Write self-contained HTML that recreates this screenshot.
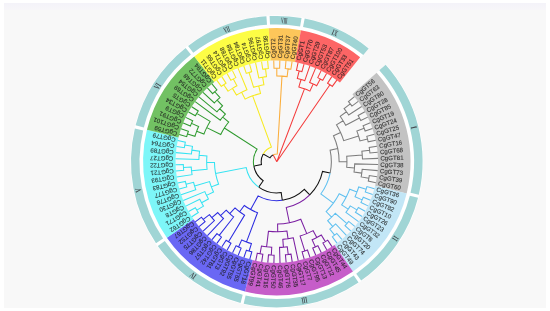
<!DOCTYPE html>
<html lang="en"><head><meta charset="utf-8"><title>Phylogenetic tree of CgGT family</title>
<style>
html,body{margin:0;padding:0;background:#fff;}
body{width:550px;height:311px;overflow:hidden;position:relative;}
#panel{position:absolute;left:4.4px;top:3px;width:541.7px;height:305.2px;background:#f8f8f8;}
#band{position:absolute;left:0;top:0;width:100%;height:7px;background:linear-gradient(#f4f3f9,#f7f6f9);}
svg{position:absolute;left:0;top:0;}
.lab{font-family:"Liberation Sans",Arial,sans-serif;font-size:6.15px;fill:#1c1c1c;stroke:#1c1c1c;stroke-width:0.12px;opacity:0.85;}
.num{font-family:"Liberation Serif","Noto Serif CJK SC",serif;font-size:8.6px;font-weight:bold;fill:#454a50;text-anchor:middle;}
.tree path{fill:none;stroke-width:1.05;stroke-linejoin:miter;}
</style></head><body>
<div id="panel"><div id="band"></div></div>
<svg width="550" height="311" viewBox="0 0 550 311">
<g class="sectors">
<path d="M376.25 73.09L386.11 64.31A146.4 146.4 0 1 1 368.93 47.93L360.63 58.18A133.2 133.2 0 1 0 376.25 73.09Z" fill="#ffffff"/>
<path d="M352.43 94.31L376.63 72.76A133.7 133.7 0 0 1 406.69 193.4L375.21 185.72A101.3 101.3 0 0 0 352.43 94.31Z" fill="#c3c3c3"/>
<path d="M379.31 70.36L385.66 64.71A145.8 145.8 0 0 1 418.81 194.72L410.53 192.79A137.3 137.3 0 0 0 379.31 70.36Z" fill="#a0d5d5"/>
<path d="M375.21 185.72L406.69 193.4A133.7 133.7 0 0 1 352.96 271.59L334.51 244.96A101.3 101.3 0 0 0 375.21 185.72Z" fill="#c2e6f6"/>
<path d="M409.82 195.7L418.06 197.81A145.8 145.8 0 0 1 361.16 280.62L356.24 273.69A137.3 137.3 0 0 0 409.82 195.7Z" fill="#a0d5d5"/>
<path d="M334.51 244.96L352.96 271.59A133.7 133.7 0 0 1 245 291.56L252.7 260.09A101.3 101.3 0 0 0 334.51 244.96Z" fill="#c65dc9"/>
<path d="M353.78 275.39L358.54 282.43A145.8 145.8 0 0 1 243.66 303.68L245.6 295.41A137.3 137.3 0 0 0 353.78 275.39Z" fill="#a0d5d5"/>
<path d="M252.7 260.09L245 291.56A133.7 133.7 0 0 1 166.85 237.77L193.49 219.34A101.3 101.3 0 0 0 252.7 260.09Z" fill="#6a67f4"/>
<path d="M242.69 294.69L240.57 302.93A145.8 145.8 0 0 1 157.81 245.96L164.75 241.05A137.3 137.3 0 0 0 242.69 294.69Z" fill="#a0d5d5"/>
<path d="M193.49 219.34L166.85 237.77A133.7 133.7 0 0 1 146.96 129.79L178.43 137.52A101.3 101.3 0 0 0 193.49 219.34Z" fill="#7df6f8"/>
<path d="M163.04 238.58L156 243.34A145.8 145.8 0 0 1 134.84 128.45L143.12 130.38A137.3 137.3 0 0 0 163.04 238.58Z" fill="#a0d5d5"/>
<path d="M178.43 137.52L146.96 129.79A133.7 133.7 0 0 1 194.31 56.48L214.3 81.98A101.3 101.3 0 0 0 178.43 137.52Z" fill="#72c163"/>
<path d="M143.83 127.48L135.6 125.36A145.8 145.8 0 0 1 185.6 47.94L190.92 54.58A137.3 137.3 0 0 0 143.83 127.48Z" fill="#a0d5d5"/>
<path d="M214.3 81.98L194.31 56.48A133.7 133.7 0 0 1 268.73 28.24L270.69 60.58A101.3 101.3 0 0 0 214.3 81.98Z" fill="#fdfd45"/>
<path d="M193.28 52.73L188.11 45.98A145.8 145.8 0 0 1 266.41 16.27L267.02 24.75A137.3 137.3 0 0 0 193.28 52.73Z" fill="#a0d5d5"/>
<path d="M270.69 60.58L268.73 28.24A133.7 133.7 0 0 1 300.92 30.19L295.07 62.06A101.3 101.3 0 0 0 270.69 60.58Z" fill="#fdc65a"/>
<path d="M270.01 24.57L269.59 16.08A145.8 145.8 0 0 1 301.54 18.01L300.09 26.39A137.3 137.3 0 0 0 270.01 24.57Z" fill="#a0d5d5"/>
<path d="M295.07 62.06L300.92 30.19A133.7 133.7 0 0 1 360.12 57.14L339.93 82.48A101.3 101.3 0 0 0 295.07 62.06Z" fill="#fd6565"/>
<path d="M303.04 26.93L304.67 18.59A145.8 145.8 0 0 1 368.65 48.47L363.3 55.07A137.3 137.3 0 0 0 303.04 26.93Z" fill="#a0d5d5"/>
</g>
<g class="tree">
<path stroke="#f43c3c" d="M276.8 161.7L273.08 154.85M276.8 161.7L304.45 88.85M304.45 88.85A77.92 77.92 0 0 0 298.87 86.97L301.08 79.49M301.08 79.49A85.72 85.72 0 0 0 297.33 78.48L299.19 70.91M299.19 70.91A93.51 93.51 0 0 0 296.44 70.28L298.08 62.66M299.19 70.91A93.51 93.51 0 0 1 301.93 71.63L304.02 64.13M301.08 79.49A85.72 85.72 0 0 1 304.78 80.68L309.87 65.95M304.45 88.85A77.92 77.92 0 0 1 309.87 91.14L313.18 84.09M313.18 84.09A85.72 85.72 0 0 0 309.62 82.52L315.59 68.12M313.18 84.09A85.72 85.72 0 0 1 316.66 85.82L320.28 78.92M320.28 78.92A93.51 93.51 0 0 0 317.76 77.64L321.17 70.64M320.28 78.92A93.51 93.51 0 0 1 322.76 80.27L326.59 73.48M276.8 161.7L329.95 84.76M329.95 84.76A93.51 93.51 0 0 0 327.6 83.19L331.83 76.65M329.95 84.76A93.51 93.51 0 0 1 332.25 86.41L336.87 80.13"/>
<path stroke="#111" stroke-width="1.25" d="M273.08 154.85A7.79 7.79 0 0 0 270.02 157.86L263.24 154.03M263.24 154.03A15.58 15.58 0 0 0 261.49 164.64L253.84 166.11M253.84 166.11A23.38 23.38 0 0 0 263.22 180.73L258.69 187.07M258.69 187.07A31.17 31.17 0 0 0 281.19 192.56L282.29 200.27M282.29 200.27A38.96 38.96 0 0 0 304.28 189.32L309.77 194.85M309.77 194.85A46.75 46.75 0 0 0 322.54 171.41L330.16 173.02"/>
<path stroke="#7d7d7d" d="M330.16 173.02A54.55 54.55 0 0 0 330.1 150.12L337.72 148.46M337.72 148.46A62.34 62.34 0 0 0 333.48 135.75L340.57 132.51M340.57 132.51A70.13 70.13 0 0 0 336.44 124.8L343.07 120.7M343.07 120.7A77.92 77.92 0 0 0 340.13 116.3L346.46 111.76M346.46 111.76A85.72 85.72 0 0 0 344.13 108.65L350.25 103.83M350.25 103.83A93.51 93.51 0 0 0 348.46 101.63L354.44 96.63M350.25 103.83A93.51 93.51 0 0 1 351.96 106.07L358.23 101.44M346.46 111.76A85.72 85.72 0 0 1 348.65 114.96L361.72 106.47M343.07 120.7A77.92 77.92 0 0 1 345.7 125.3L359.48 118.02M359.48 118.02A93.51 93.51 0 0 0 358.12 115.54L364.9 111.7M359.48 118.02A93.51 93.51 0 0 1 360.76 120.54L367.76 117.11M340.57 132.51A70.13 70.13 0 0 1 343.7 140.66L358.57 135.99M358.57 135.99A85.72 85.72 0 0 0 356.87 131.09L364.14 128.31M364.14 128.31A93.51 93.51 0 0 0 363.09 125.69L370.29 122.69M364.14 128.31A93.51 93.51 0 0 1 365.11 130.97L372.47 128.41M358.57 135.99A85.72 85.72 0 0 1 359.97 140.97L367.53 139.09M367.53 139.09A93.51 93.51 0 0 0 366.81 136.36L374.31 134.25M367.53 139.09A93.51 93.51 0 0 1 368.17 141.84L375.79 140.19M337.72 148.46A62.34 62.34 0 0 1 339.14 161.78L346.93 161.79M346.93 161.79A70.13 70.13 0 0 0 346.72 156.24L362.25 155.02M362.25 155.02A85.72 85.72 0 0 0 361.86 151.16L369.6 150.2M369.6 150.2A93.51 93.51 0 0 0 369.21 147.4L376.91 146.21M369.6 150.2A93.51 93.51 0 0 1 369.9 153.01L377.66 152.28M362.25 155.02A85.72 85.72 0 0 1 362.47 158.9L378.05 158.39M346.93 161.79A70.13 70.13 0 0 1 346.7 167.35L354.47 167.98M354.47 167.98A77.92 77.92 0 0 0 354.69 163.86L378.06 164.51M354.47 167.98A77.92 77.92 0 0 1 354.03 172.08L361.75 173.11M361.75 173.11A85.72 85.72 0 0 0 362.18 169.25L377.71 170.63M361.75 173.11A85.72 85.72 0 0 1 361.15 176.95L368.82 178.34M368.82 178.34A93.51 93.51 0 0 0 369.28 175.55L376.98 176.71M368.82 178.34A93.51 93.51 0 0 1 368.27 181.11L375.89 182.73"/>
<path stroke="#5fc0f0" d="M330.16 173.02A54.55 54.55 0 0 1 320.8 193.94L333.37 203.15M333.37 203.15A70.13 70.13 0 0 0 339.21 193.69L346.15 197.24M346.15 197.24A77.92 77.92 0 0 0 349.72 189.17L357.01 191.92M357.01 191.92A85.72 85.72 0 0 0 358.69 187.01L366.14 189.32M366.14 189.32A93.51 93.51 0 0 0 366.93 186.6L374.44 188.68M366.14 189.32A93.51 93.51 0 0 1 365.26 192L372.63 194.53M357.01 191.92A85.72 85.72 0 0 1 355.04 196.71L362.15 199.89M362.15 199.89A93.51 93.51 0 0 0 363.27 197.29L370.48 200.26M362.15 199.89A93.51 93.51 0 0 1 360.96 202.45L367.97 205.85M346.15 197.24A77.92 77.92 0 0 1 341.68 204.85L348.17 209.17M348.17 209.17A85.72 85.72 0 0 0 350.25 205.89L356.93 209.9M356.93 209.9A93.51 93.51 0 0 0 358.35 207.46L365.14 211.27M356.93 209.9A93.51 93.51 0 0 1 355.43 212.3L361.99 216.52M348.17 209.17A85.72 85.72 0 0 1 345.95 212.36L358.52 221.57M333.37 203.15A70.13 70.13 0 0 1 326.11 211.56L331.59 217.1M331.59 217.1A77.92 77.92 0 0 0 335.23 213.25L346.92 223.56M346.92 223.56A93.51 93.51 0 0 0 348.76 221.42L354.75 226.39M346.92 223.56A93.51 93.51 0 0 1 345.02 225.65L350.7 230.98M331.59 217.1A77.92 77.92 0 0 1 327.7 220.7L332.79 226.6M332.79 226.6A85.72 85.72 0 0 0 335.68 223.99L346.38 235.32M332.79 226.6A85.72 85.72 0 0 1 329.79 229.07L334.61 235.19M334.61 235.19A93.51 93.51 0 0 0 336.81 233.41L341.81 239.39M334.61 235.19A93.51 93.51 0 0 1 332.36 236.91L337 243.18"/>
<path stroke="#7b1fa2" d="M309.77 194.85A46.75 46.75 0 0 1 286.26 207.49L289.41 222.75M289.41 222.75A62.34 62.34 0 0 0 300.76 219.25L306.75 233.64M306.75 233.64A77.92 77.92 0 0 0 313.14 230.63L316.78 237.52M316.78 237.52A85.72 85.72 0 0 0 321.28 234.97L325.33 241.63M325.33 241.63A93.51 93.51 0 0 0 327.72 240.13L331.96 246.66M325.33 241.63A93.51 93.51 0 0 1 322.89 243.06L326.73 249.84M316.78 237.52A85.72 85.72 0 0 1 312.12 239.8L315.33 246.9M315.33 246.9A93.51 93.51 0 0 0 317.89 245.7L321.31 252.7M315.33 246.9A93.51 93.51 0 0 1 312.74 248.02L315.74 255.22M306.75 233.64A77.92 77.92 0 0 1 300.11 236.05L304.78 250.92M304.78 250.92A93.51 93.51 0 0 0 307.46 250.04L310.01 257.4M304.78 250.92A93.51 93.51 0 0 1 302.07 251.73L304.17 259.23M289.41 222.75A62.34 62.34 0 0 1 277.61 224.03L277.71 231.82M277.71 231.82A70.13 70.13 0 0 0 286.95 231.09L288.07 238.8M288.07 238.8A77.92 77.92 0 0 0 293.29 237.86L298.23 260.71M288.07 238.8A77.92 77.92 0 0 1 282.81 239.39L283.41 247.16M283.41 247.16A85.72 85.72 0 0 0 287.27 246.77L288.23 254.51M288.23 254.51A93.51 93.51 0 0 0 291.03 254.12L292.21 261.82M288.23 254.51A93.51 93.51 0 0 1 285.42 254.81L286.13 262.57M283.41 247.16A85.72 85.72 0 0 1 279.53 247.37L280.02 262.95M277.71 231.82A70.13 70.13 0 0 1 268.45 231.33L266.6 246.81M266.6 246.81A85.72 85.72 0 0 0 271.76 247.27L271.3 255.05M271.3 255.05A93.51 93.51 0 0 0 274.12 255.17L273.9 262.96M271.3 255.05A93.51 93.51 0 0 1 268.48 254.84L267.79 262.6M266.6 246.81A85.72 85.72 0 0 1 261.48 246.03L260.08 253.7M260.08 253.7A93.51 93.51 0 0 0 262.87 254.16L261.71 261.87M260.08 253.7A93.51 93.51 0 0 1 257.31 253.15L255.69 260.78"/>
<path stroke="#2a2ae0" d="M282.29 200.27A38.96 38.96 0 0 1 258.12 195.89L250.65 209.57M250.65 209.57A54.55 54.55 0 0 0 257.53 212.73L246.52 241.89M246.52 241.89A85.72 85.72 0 0 0 251.42 243.57L249.11 251.01M249.11 251.01A93.51 93.51 0 0 0 251.82 251.81L249.74 259.32M249.11 251.01A93.51 93.51 0 0 1 246.42 250.14L243.89 257.51M246.52 241.89A85.72 85.72 0 0 1 241.73 239.91L238.54 247.02M238.54 247.02A93.51 93.51 0 0 0 241.14 248.14L238.17 255.34M238.54 247.02A93.51 93.51 0 0 1 235.98 245.83L232.58 252.84M250.65 209.57A54.55 54.55 0 0 1 244.28 205.49L239.63 211.75M239.63 211.75A62.34 62.34 0 0 0 244.62 215.09L228.53 241.79M228.53 241.79A93.51 93.51 0 0 0 230.97 243.21L227.15 250M228.53 241.79A93.51 93.51 0 0 1 226.13 240.29L221.91 246.84M239.63 211.75A62.34 62.34 0 0 1 234.99 207.94L229.77 213.72M229.77 213.72A70.13 70.13 0 0 0 233.62 216.96L219.22 235.38M219.22 235.38A93.51 93.51 0 0 0 221.48 237.09L216.87 243.37M219.22 235.38A93.51 93.51 0 0 1 217.02 233.61L212.04 239.6M229.77 213.72A70.13 70.13 0 0 1 226.16 210.21L220.53 215.6M220.53 215.6A77.92 77.92 0 0 0 223.46 218.5L207.46 235.54M220.53 215.6A77.92 77.92 0 0 1 217.76 212.55L211.85 217.64M211.85 217.64A85.72 85.72 0 0 0 214.46 220.53L203.12 231.22M211.85 217.64A85.72 85.72 0 0 1 209.39 214.64L203.26 219.45M203.26 219.45A93.51 93.51 0 0 0 205.04 221.65L199.06 226.64M203.26 219.45A93.51 93.51 0 0 1 201.55 217.2L195.27 221.83"/>
<path stroke="#35e3f2" d="M258.69 187.07A31.17 31.17 0 0 1 246.19 167.58L215.58 173.45M215.58 173.45A62.34 62.34 0 0 0 218.62 184.08L211.35 186.88M211.35 186.88A70.13 70.13 0 0 0 213.55 191.99L206.52 195.35M206.52 195.35A77.92 77.92 0 0 0 208.4 199.02L201.56 202.75M201.56 202.75A85.72 85.72 0 0 0 203.49 206.12L196.83 210.16M196.83 210.16A93.51 93.51 0 0 0 198.33 212.55L191.79 216.79M196.83 210.16A93.51 93.51 0 0 1 195.4 207.72L188.62 211.56M201.56 202.75A85.72 85.72 0 0 1 199.77 199.3L185.77 206.14M206.52 195.35A77.92 77.92 0 0 1 204.84 191.59L183.25 200.56M211.35 186.88A70.13 70.13 0 0 1 209.56 181.61L194.61 186.04M194.61 186.04A85.72 85.72 0 0 0 195.8 189.74L181.07 194.84M194.61 186.04A85.72 85.72 0 0 1 193.59 182.29L186.03 184.16M186.03 184.16A93.51 93.51 0 0 0 186.75 186.89L179.25 188.99M186.03 184.16A93.51 93.51 0 0 1 185.39 181.41L177.78 183.05M215.58 173.45A62.34 62.34 0 0 1 214.47 162.45L206.67 162.55M206.67 162.55A70.13 70.13 0 0 0 207.07 169.16L191.57 170.82M191.57 170.82A85.72 85.72 0 0 0 192.07 174.67L176.67 177.03M191.57 170.82A85.72 85.72 0 0 1 191.25 166.94L183.47 167.42M183.47 167.42A93.51 93.51 0 0 0 183.68 170.24L175.92 170.95M183.47 167.42A93.51 93.51 0 0 1 183.34 164.6L175.55 164.84M206.67 162.55A70.13 70.13 0 0 1 206.91 155.93L199.14 155.29M199.14 155.29A77.92 77.92 0 0 0 198.91 159.41L175.54 158.72M199.14 155.29A77.92 77.92 0 0 1 199.59 151.19L191.87 150.14M191.87 150.14A85.72 85.72 0 0 0 191.43 154.01L175.91 152.61M191.87 150.14A85.72 85.72 0 0 1 192.48 146.31L184.81 144.91M184.81 144.91A93.51 93.51 0 0 0 184.35 147.69L176.64 146.53M184.81 144.91A93.51 93.51 0 0 1 185.36 142.14L177.74 140.51"/>
<path stroke="#2e9a2e" d="M253.84 166.11A23.38 23.38 0 0 1 257.14 149.05L224.37 127.98M224.37 127.98A62.34 62.34 0 0 0 220.74 134.44L206.72 127.63M206.72 127.63A77.92 77.92 0 0 0 203.92 134.11L196.64 131.35M196.64 131.35A85.72 85.72 0 0 0 194.95 136.25L187.51 133.94M187.51 133.94A93.51 93.51 0 0 0 186.71 136.65L179.2 134.56M187.51 133.94A93.51 93.51 0 0 1 188.39 131.25L181.02 128.71M196.64 131.35A85.72 85.72 0 0 1 198.62 126.56L191.51 123.37M191.51 123.37A93.51 93.51 0 0 0 190.39 125.97L183.19 122.99M191.51 123.37A93.51 93.51 0 0 1 192.71 120.81L185.7 117.4M206.72 127.63A77.92 77.92 0 0 1 210.1 121.42L196.75 113.36M196.75 113.36A93.51 93.51 0 0 0 195.33 115.81L188.54 111.98M196.75 113.36A93.51 93.51 0 0 1 198.25 110.97L191.71 106.74M224.37 127.98A62.34 62.34 0 0 1 228.74 121.99L222.74 117.03M222.74 117.03A70.13 70.13 0 0 0 220.29 120.16L195.18 101.7M222.74 117.03A70.13 70.13 0 0 1 225.36 114.04L219.64 108.74M219.64 108.74A77.92 77.92 0 0 0 216.92 111.84L198.95 96.88M219.64 108.74A77.92 77.92 0 0 1 222.52 105.79L217.09 100.2M217.09 100.2A85.72 85.72 0 0 0 214.36 102.97L203.01 92.29M217.09 100.2A85.72 85.72 0 0 1 219.94 97.56L214.77 91.73M214.77 91.73A93.51 93.51 0 0 0 212.68 93.64L207.34 87.96M214.77 91.73A93.51 93.51 0 0 1 216.91 89.89L211.92 83.9"/>
<path stroke="#f7ea20" d="M263.24 154.03A15.58 15.58 0 0 1 271.44 147.07L252.67 95.85M252.67 95.85A70.13 70.13 0 0 0 245.14 99.12L241.62 92.17M241.62 92.17A77.92 77.92 0 0 0 236.47 95.02L232.44 88.36M232.44 88.36A85.72 85.72 0 0 0 228.09 91.17L223.66 84.76M223.66 84.76A93.51 93.51 0 0 0 221.36 86.4L216.74 80.12M223.66 84.76A93.51 93.51 0 0 1 226.01 83.19L221.78 76.65M232.44 88.36A85.72 85.72 0 0 1 236.95 85.81L233.33 78.91M233.33 78.91A93.51 93.51 0 0 0 230.85 80.26L227.02 73.48M233.33 78.91A93.51 93.51 0 0 1 235.85 77.64L232.44 70.63M241.62 92.17A77.92 77.92 0 0 1 246.97 89.71L238.02 68.12M252.67 95.85A70.13 70.13 0 0 1 260.53 93.48L258.72 85.9M258.72 85.9A77.92 77.92 0 0 0 253.61 87.31L248.97 72.43M248.97 72.43A93.51 93.51 0 0 0 246.29 73.31L243.74 65.95M248.97 72.43A93.51 93.51 0 0 1 251.68 71.63L249.59 64.12M258.72 85.9A77.92 77.92 0 0 1 263.91 84.85L262.62 77.17M262.62 77.17A85.72 85.72 0 0 0 258.8 77.89L255.53 62.66M262.62 77.17A85.72 85.72 0 0 1 266.47 76.61L265.53 68.87M265.53 68.87A93.51 93.51 0 0 0 262.73 69.26L261.56 61.55M265.53 68.87A93.51 93.51 0 0 1 268.34 68.58L267.63 60.82"/>
<path stroke="#fbae3c" d="M273.08 154.85A7.79 7.79 0 0 1 277.27 153.92L281.98 76.14M281.98 76.14A85.72 85.72 0 0 0 276.8 75.98L276.8 68.19M276.8 68.19A93.51 93.51 0 0 0 273.98 68.23L273.74 60.45M276.8 68.19A93.51 93.51 0 0 1 279.63 68.24L279.87 60.45M281.98 76.14A85.72 85.72 0 0 1 287.14 76.61L288.08 68.88M288.08 68.88A93.51 93.51 0 0 0 285.27 68.58L285.98 60.82M288.08 68.88A93.51 93.51 0 0 1 290.88 69.26L292.06 61.56"/>
</g>
<g class="num">
<text transform="translate(413.91 127.53) rotate(76.01) scale(0.84 1)" y="2.84">I</text>
<text transform="translate(395.45 238.44) rotate(122.89) scale(0.66 1)" y="2.84">II</text>
<text transform="translate(304.44 300.27) rotate(168.72) scale(0.58 1)" y="2.84">III</text>
<text transform="translate(193.07 275.52) rotate(216.34) scale(0.6 1)" y="2.84">IV</text>
<text transform="translate(138.4 190.2) rotate(258.37) scale(0.68 1)" y="2.84">V</text>
<text transform="translate(157.44 86.08) rotate(302.36) scale(0.6 1)" y="2.84">VI</text>
<text transform="translate(226.91 29.5) rotate(339.32) scale(0.47 1)" y="2.84">VII</text>
<text transform="translate(284.36 20.6) rotate(363.07) scale(0.39 1)" y="2.84">VIII</text>
<text transform="translate(334.83 32.86) rotate(384.25) scale(0.6 1)" y="2.84">IX</text>
</g>
<g class="lab">
<text transform="translate(276.8 161.7) rotate(-39.97)" x="103.6" y="2.1">CgGT56</text>
<text transform="translate(276.8 161.7) rotate(-36.5)" x="103.6" y="2.1">CgGT63</text>
<text transform="translate(276.8 161.7) rotate(-33.04)" x="103.6" y="2.1">CgGT80</text>
<text transform="translate(276.8 161.7) rotate(-29.58)" x="103.6" y="2.1">CgGT28</text>
<text transform="translate(276.8 161.7) rotate(-26.11)" x="103.6" y="2.1">CgGT85</text>
<text transform="translate(276.8 161.7) rotate(-22.65)" x="103.6" y="2.1">CgGT19</text>
<text transform="translate(276.8 161.7) rotate(-19.19)" x="103.6" y="2.1">CgGT24</text>
<text transform="translate(276.8 161.7) rotate(-15.72)" x="103.6" y="2.1">CgGT25</text>
<text transform="translate(276.8 161.7) rotate(-12.26)" x="103.6" y="2.1">CgGT47</text>
<text transform="translate(276.8 161.7) rotate(-8.8)" x="103.6" y="2.1">CgGT16</text>
<text transform="translate(276.8 161.7) rotate(-5.33)" x="103.6" y="2.1">CgGT68</text>
<text transform="translate(276.8 161.7) rotate(-1.87)" x="103.6" y="2.1">CgGT81</text>
<text transform="translate(276.8 161.7) rotate(1.59)" x="103.6" y="2.1">CgGT38</text>
<text transform="translate(276.8 161.7) rotate(5.06)" x="103.6" y="2.1">CgGT73</text>
<text transform="translate(276.8 161.7) rotate(8.52)" x="103.6" y="2.1">CgGT39</text>
<text transform="translate(276.8 161.7) rotate(11.98)" x="103.6" y="2.1">CgGT60</text>
<text transform="translate(276.8 161.7) rotate(15.45)" x="103.6" y="2.1">CgGT36</text>
<text transform="translate(276.8 161.7) rotate(18.91)" x="103.6" y="2.1">CgGT90</text>
<text transform="translate(276.8 161.7) rotate(22.37)" x="103.6" y="2.1">CgGT82</text>
<text transform="translate(276.8 161.7) rotate(25.84)" x="103.6" y="2.1">CgGT10</text>
<text transform="translate(276.8 161.7) rotate(29.3)" x="103.6" y="2.1">CgGT26</text>
<text transform="translate(276.8 161.7) rotate(32.76)" x="103.6" y="2.1">CgGT23</text>
<text transform="translate(276.8 161.7) rotate(36.23)" x="103.6" y="2.1">CgGT32</text>
<text transform="translate(276.8 161.7) rotate(39.69)" x="103.6" y="2.1">CgGT6</text>
<text transform="translate(276.8 161.7) rotate(43.15)" x="103.6" y="2.1">CgGT20</text>
<text transform="translate(276.8 161.7) rotate(46.62)" x="103.6" y="2.1">CgGT74</text>
<text transform="translate(276.8 161.7) rotate(50.08)" x="103.6" y="2.1">CgGT43</text>
<text transform="translate(276.8 161.7) rotate(53.54)" x="103.6" y="2.1">CgGT49</text>
<text transform="translate(276.8 161.7) rotate(57.01)" x="103.6" y="2.1">CgGT44</text>
<text transform="translate(276.8 161.7) rotate(60.47)" x="103.6" y="2.1">CgGT45</text>
<text transform="translate(276.8 161.7) rotate(63.93)" x="103.6" y="2.1">CgGT12</text>
<text transform="translate(276.8 161.7) rotate(67.4)" x="103.6" y="2.1">CgGT13</text>
<text transform="translate(276.8 161.7) rotate(70.86)" x="103.6" y="2.1">CgGT95</text>
<text transform="translate(276.8 161.7) rotate(74.32)" x="103.6" y="2.1">CgGT7</text>
<text transform="translate(276.8 161.7) rotate(77.79)" x="103.6" y="2.1">CgGT17</text>
<text transform="translate(276.8 161.7) rotate(81.25)" x="103.6" y="2.1">CgGT35</text>
<text transform="translate(276.8 161.7) rotate(84.71)" x="103.6" y="2.1">CgGT76</text>
<text transform="translate(276.8 161.7) rotate(88.18)" x="103.6" y="2.1">CgGT46</text>
<text transform="translate(276.8 161.7) rotate(91.64)" x="103.6" y="2.1">CgGT50</text>
<text transform="translate(276.8 161.7) rotate(95.1)" x="103.6" y="2.1">CgGT15</text>
<text transform="translate(276.8 161.7) rotate(98.57)" x="103.6" y="2.1">CgGT41</text>
<text transform="translate(276.8 161.7) rotate(102.03)" x="103.6" y="2.1">CgGT99</text>
<text transform="translate(276.8 161.7) rotate(105.49)" x="103.6" y="2.1">CgGT18</text>
<text transform="translate(276.8 161.7) rotate(108.96)" x="103.6" y="2.1">CgGT65</text>
<text transform="translate(276.8 161.7) rotate(112.42)" x="103.6" y="2.1">CgGT55</text>
<text transform="translate(276.8 161.7) rotate(115.88)" x="103.6" y="2.1">CgGT92</text>
<text transform="translate(276.8 161.7) rotate(119.35)" x="103.6" y="2.1">CgGT3</text>
<text transform="translate(276.8 161.7) rotate(122.81)" x="103.6" y="2.1">CgGT61</text>
<text transform="translate(276.8 161.7) rotate(126.27)" x="103.6" y="2.1">CgGT42</text>
<text transform="translate(276.8 161.7) rotate(129.74)" x="103.6" y="2.1">CgGT57</text>
<text transform="translate(276.8 161.7) rotate(133.2)" x="103.6" y="2.1">CgGT86</text>
<text transform="translate(276.8 161.7) rotate(136.66)" x="103.6" y="2.1">CgGT75</text>
<text transform="translate(276.8 161.7) rotate(140.13)" x="103.6" y="2.1">CgGT52</text>
<text transform="translate(276.8 161.7) rotate(143.59)" x="103.6" y="2.1">CgGT67</text>
<text transform="translate(276.8 161.7) rotate(147.05)" x="103.6" y="2.1">CgGT62</text>
<text transform="translate(276.8 161.7) rotate(150.52)" x="103.6" y="2.1">CgGT71</text>
<text transform="translate(276.8 161.7) rotate(153.98)" x="103.6" y="2.1">CgGT8</text>
<text transform="translate(276.8 161.7) rotate(157.44)" x="103.6" y="2.1">CgGT30</text>
<text transform="translate(276.8 161.7) rotate(160.91)" x="103.6" y="2.1">CgGT78</text>
<text transform="translate(276.8 161.7) rotate(164.37)" x="103.6" y="2.1">CgGT77</text>
<text transform="translate(276.8 161.7) rotate(167.83)" x="103.6" y="2.1">CgGT83</text>
<text transform="translate(276.8 161.7) rotate(171.3)" x="103.6" y="2.1">CgGT93</text>
<text transform="translate(276.8 161.7) rotate(174.76)" x="103.6" y="2.1">CgGT21</text>
<text transform="translate(276.8 161.7) rotate(178.22)" x="103.6" y="2.1">CgGT22</text>
<text transform="translate(276.8 161.7) rotate(181.69)" x="103.6" y="2.1">CgGT27</text>
<text transform="translate(276.8 161.7) rotate(185.15)" x="103.6" y="2.1">CgGT89</text>
<text transform="translate(276.8 161.7) rotate(188.61)" x="103.6" y="2.1">CgGT64</text>
<text transform="translate(276.8 161.7) rotate(192.08)" x="103.6" y="2.1">CgGT79</text>
<text transform="translate(276.8 161.7) rotate(195.54)" x="103.6" y="2.1">CgGT59</text>
<text transform="translate(276.8 161.7) rotate(199)" x="103.6" y="2.1">CgGT101</text>
<text transform="translate(276.8 161.7) rotate(202.47)" x="103.6" y="2.1">CgGT91</text>
<text transform="translate(276.8 161.7) rotate(205.93)" x="103.6" y="2.1">CgGT9</text>
<text transform="translate(276.8 161.7) rotate(209.39)" x="103.6" y="2.1">CgGT34</text>
<text transform="translate(276.8 161.7) rotate(212.86)" x="103.6" y="2.1">CgGT5</text>
<text transform="translate(276.8 161.7) rotate(216.32)" x="103.6" y="2.1">CgGT69</text>
<text transform="translate(276.8 161.7) rotate(219.78)" x="103.6" y="2.1">CgGT54</text>
<text transform="translate(276.8 161.7) rotate(223.25)" x="103.6" y="2.1">CgGT48</text>
<text transform="translate(276.8 161.7) rotate(226.71)" x="103.6" y="2.1">CgGT72</text>
<text transform="translate(276.8 161.7) rotate(230.17)" x="103.6" y="2.1">CgGT94</text>
<text transform="translate(276.8 161.7) rotate(233.64)" x="103.6" y="2.1">CgGT11</text>
<text transform="translate(276.8 161.7) rotate(237.1)" x="103.6" y="2.1">CgGT66</text>
<text transform="translate(276.8 161.7) rotate(240.56)" x="103.6" y="2.1">CgGT14</text>
<text transform="translate(276.8 161.7) rotate(244.03)" x="103.6" y="2.1">CgGT88</text>
<text transform="translate(276.8 161.7) rotate(247.49)" x="103.6" y="2.1">CgGT58</text>
<text transform="translate(276.8 161.7) rotate(250.95)" x="103.6" y="2.1">CgGT84</text>
<text transform="translate(276.8 161.7) rotate(254.42)" x="103.6" y="2.1">CgGT4</text>
<text transform="translate(276.8 161.7) rotate(257.88)" x="103.6" y="2.1">CgGT96</text>
<text transform="translate(276.8 161.7) rotate(261.34)" x="103.6" y="2.1">CgGT97</text>
<text transform="translate(276.8 161.7) rotate(264.81)" x="103.6" y="2.1">CgGT98</text>
<text transform="translate(276.8 161.7) rotate(268.27)" x="103.6" y="2.1">CgGT2</text>
<text transform="translate(276.8 161.7) rotate(271.73)" x="103.6" y="2.1">CgGT31</text>
<text transform="translate(276.8 161.7) rotate(275.2)" x="103.6" y="2.1">CgGT37</text>
<text transform="translate(276.8 161.7) rotate(278.66)" x="103.6" y="2.1">CgGT40</text>
<text transform="translate(276.8 161.7) rotate(282.12)" x="103.6" y="2.1">CgGT1</text>
<text transform="translate(276.8 161.7) rotate(285.59)" x="103.6" y="2.1">CgGT70</text>
<text transform="translate(276.8 161.7) rotate(289.05)" x="103.6" y="2.1">CgGT29</text>
<text transform="translate(276.8 161.7) rotate(292.51)" x="103.6" y="2.1">CgGT53</text>
<text transform="translate(276.8 161.7) rotate(295.98)" x="103.6" y="2.1">CgGT87</text>
<text transform="translate(276.8 161.7) rotate(299.44)" x="103.6" y="2.1">CgGT100</text>
<text transform="translate(276.8 161.7) rotate(302.9)" x="103.6" y="2.1">CgGT33</text>
<text transform="translate(276.8 161.7) rotate(306.37)" x="103.6" y="2.1">CgGT51</text>
</g>
</svg>
</body></html>
